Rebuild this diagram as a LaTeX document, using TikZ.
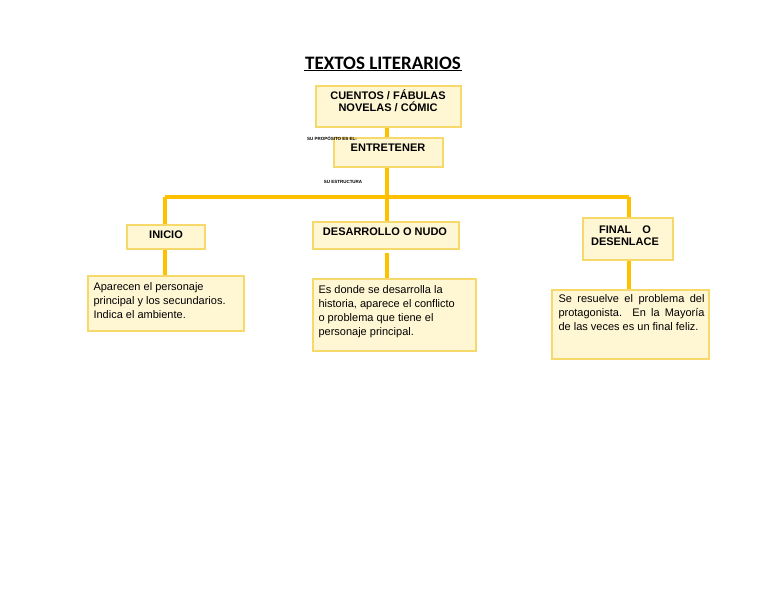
\documentclass[tikz,border=0pt]{standalone}
\usepackage{fontspec}
\setmainfont{Liberation Sans}
\newfontfamily\titlefont{Carlito}
\definecolor{bord}{HTML}{F7D96B}
\definecolor{fillc}{HTML}{FFF7D4}
\definecolor{linec}{HTML}{FFC000}
\begin{document}
\begin{tikzpicture}[x=1pt,y=-1pt,
  bx/.style={draw=bord,fill=fillc,line width=2.2pt,inner sep=3pt},
  conn/.style={draw=linec,line width=4pt},
  hd/.style={font=\bfseries\fontsize{11}{12}\selectfont,align=center},
  tx/.style={font=\fontsize{11}{14}\selectfont,align=left}]
\useasboundingbox[fill=white] (0,0) rectangle (768,594);
\node[font=\titlefont\bfseries\fontsize{19}{20}\selectfont,inner sep=1pt] (title) at (383,63) {TEXTOS LITERARIOS};
\draw[line width=1.3pt] (title.south west) -- (title.south east);
% connectors first
\coordinate (hl) at (165,197);
\coordinate (hm) at (387,197);
\coordinate (hr) at (629,197);
\draw[conn] (387,127) -- (387,138);
\draw[conn] (387,167) -- (hm);
\draw[conn] (hl) -- (hr);
\draw[conn] (hl) -- (165,225);
\draw[conn] (hm) -- (387,222);
\draw[conn] (hr) -- (629,218);
\draw[conn] (165,249) -- (165,276);
\draw[conn] (387,253) -- (387,279);
\draw[conn] (629,260) -- (629,290);
% boxes
\draw[bx] (316,86) rectangle (461,127);
\node[hd] (a) at (388,101) {CUENTOS / FÁBULAS\\NOVELAS / CÓMIC};
\draw[bx] (334,138) rectangle (443,167);
\node[hd] (b) at (388,148) {ENTRETENER};
\node[font=\bfseries\fontsize{4.5}{5}\selectfont] (p) at (332,139) {SU PROPÓSITO ES EL:};
\node[font=\bfseries\fontsize{4.5}{5}\selectfont] (e) at (343,182) {SU ESTRUCTURA};
\draw[bx] (127,225) rectangle (205,249);
\node[hd] (c) at (166,235) {INICIO};
\draw[bx] (313,222) rectangle (459,249);
\node[hd] (d) at (385,232) {DESARROLLO O NUDO};
\draw[bx] (583,218) rectangle (673,260);
\node[hd] (f) at (625,236) {FINAL\quad O\\DESENLACE};
\draw[bx] (88,276) rectangle (244,331);
\node[tx,anchor=north west] (t1) at (90,279) {Aparecen el personaje\\principal y los secundarios.\\Indica el ambiente.};
\draw[bx] (313,279) rectangle (476,351);
\node[tx,anchor=north west] (t2) at (315,282) {Es donde se desarrolla la\\historia, aparece el conflicto\\o problema que tiene el\\personaje principal.};
\draw[bx] (552,290) rectangle (709,359);
\node[tx,anchor=north west,text width=146pt,align=justify] (t3) at (555,291) {Se resuelve el problema del protagonista.\ \ En la Mayoría de las veces es un final feliz.};
\end{tikzpicture}
\end{document}
